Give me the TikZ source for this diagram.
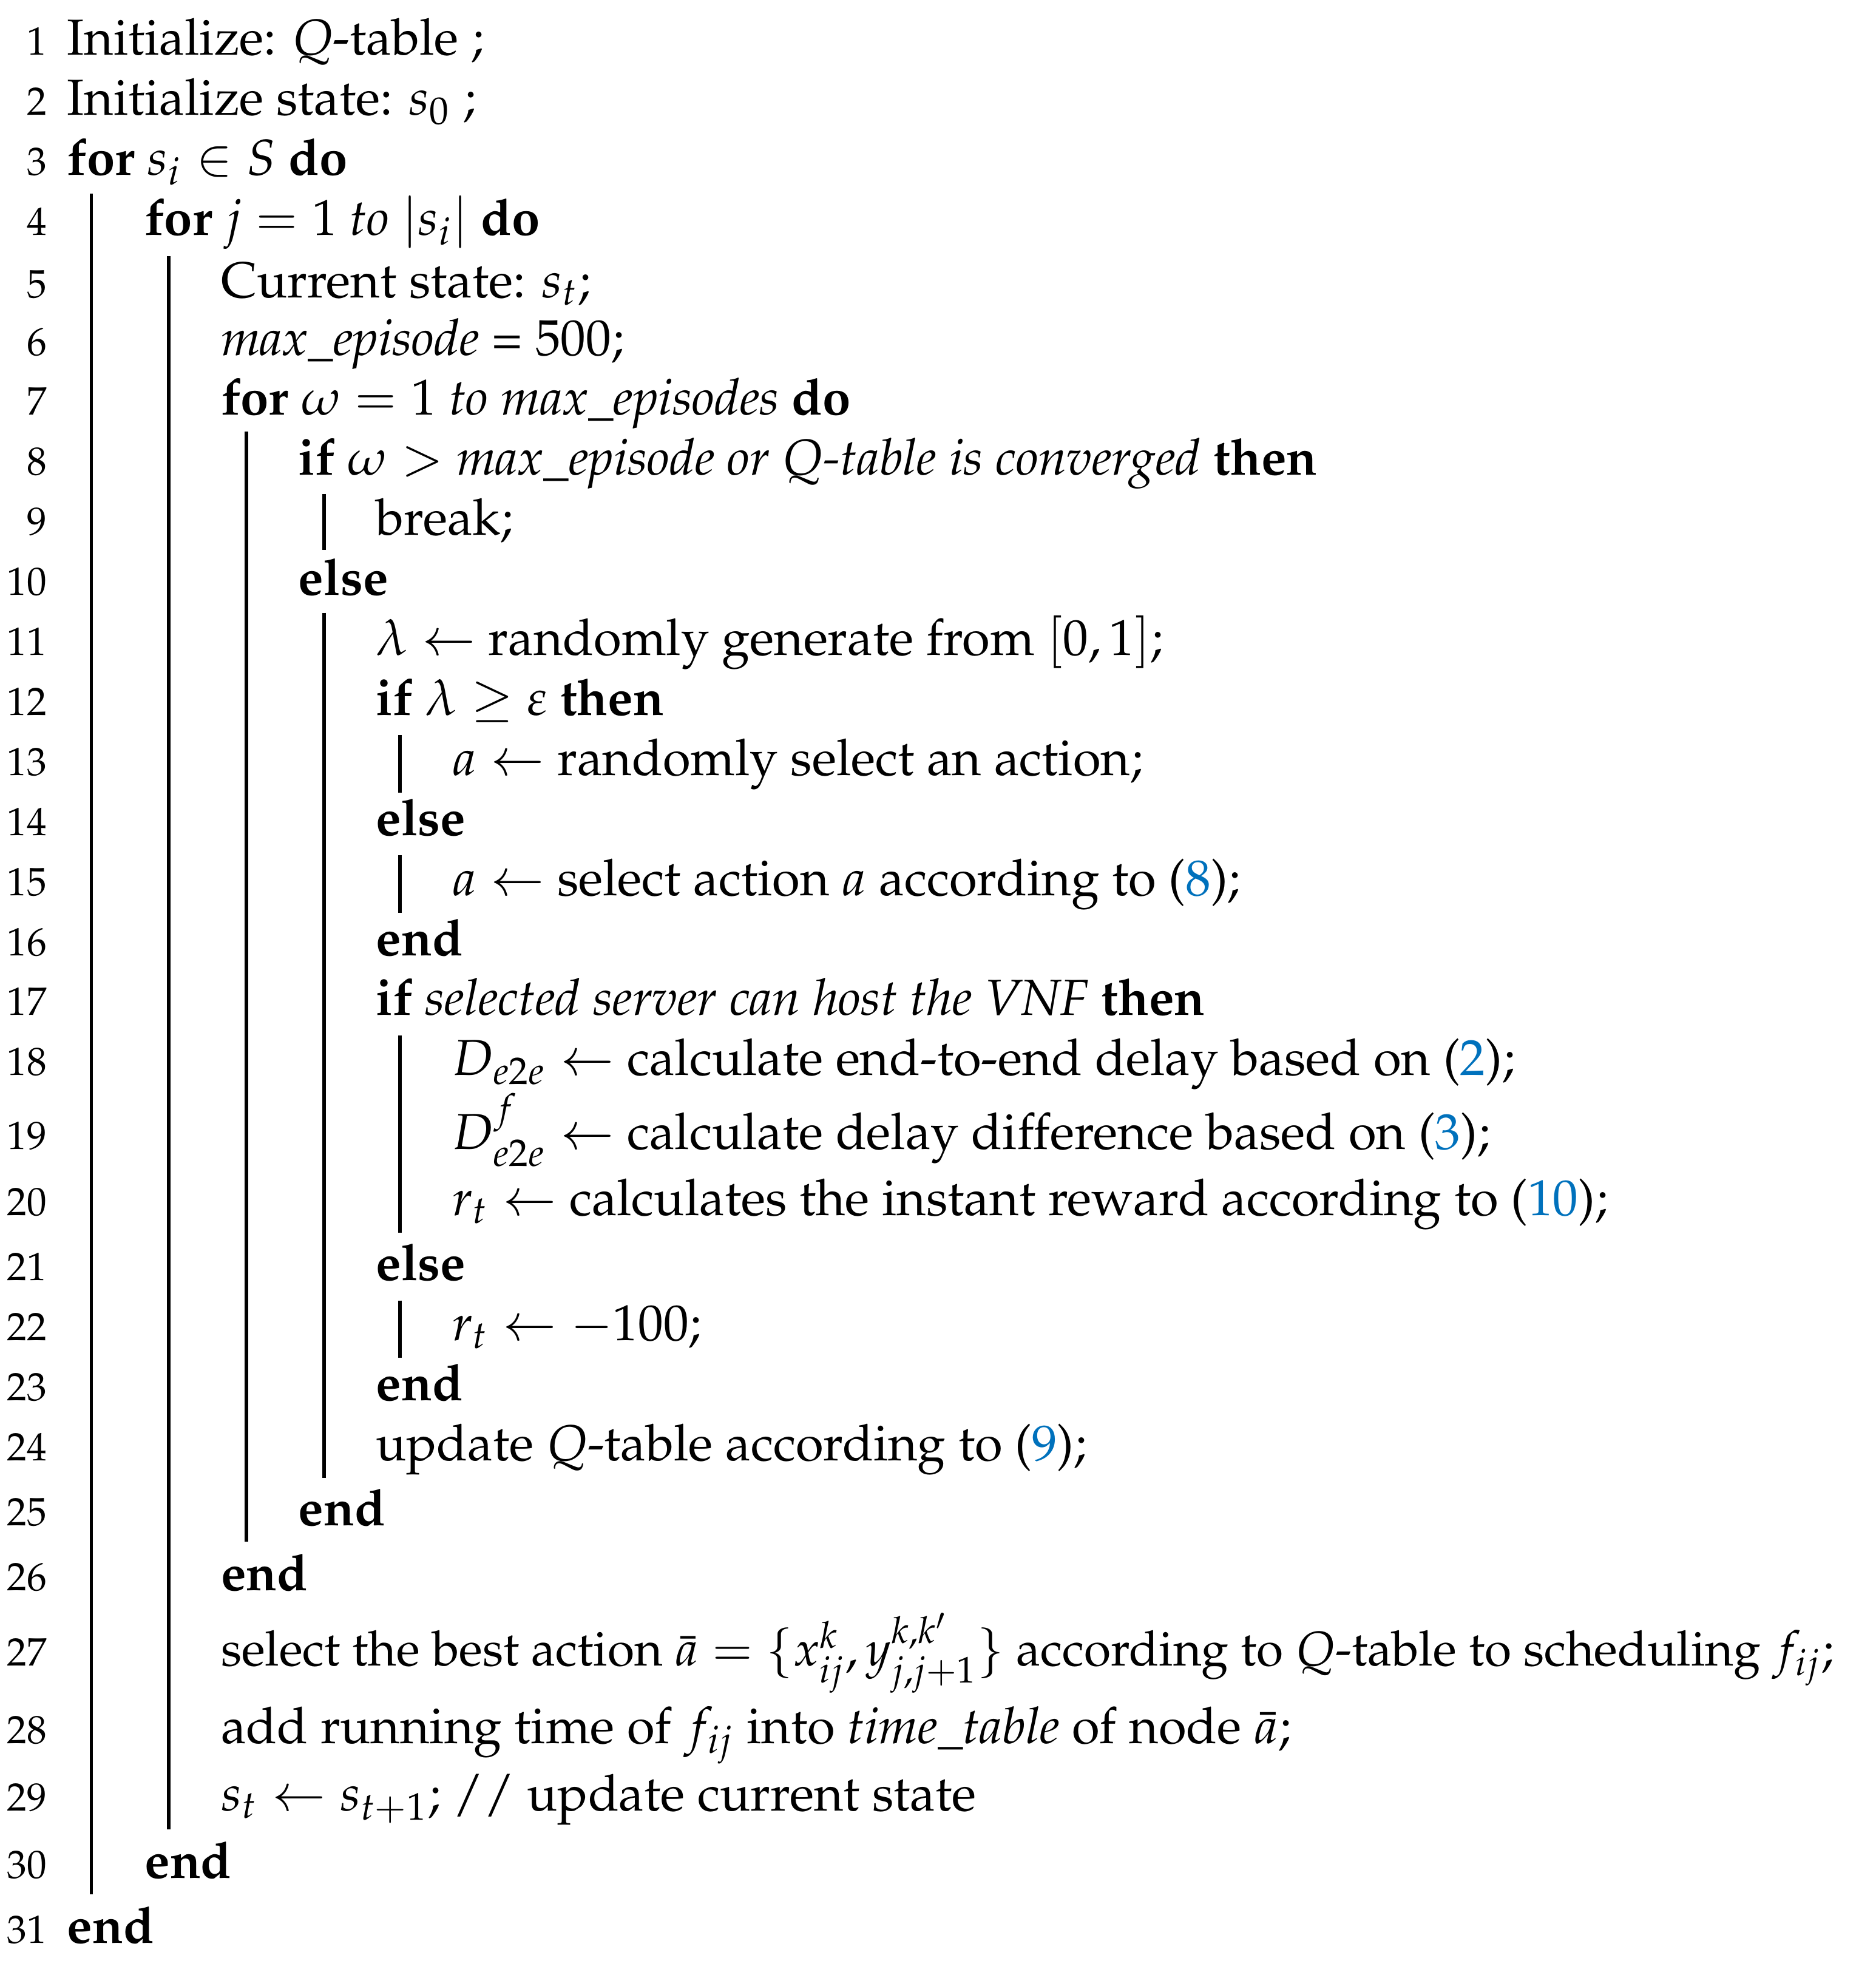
\documentclass[tikz,border=0pt]{standalone}
\usepackage[T1]{fontenc}
\usepackage{mathpazo}
\definecolor{refblue}{RGB}{0,113,188}
\newcommand{\rf}[1]{(\textcolor{refblue}{#1})}
\begin{document}
\begin{tikzpicture}[x=0.01cm,y=-0.01cm,
  ln/.style={anchor=base east,inner sep=0pt,font=\fontsize{9}{11}\selectfont},
  tx/.style={anchor=base west,inner sep=0pt,font=\fontsize{11.5}{14}\selectfont},
  bar/.style={line width=0.8pt}]
\useasboundingbox (0,0) rectangle (1500,1577);
\def\L#1#2#3#4{\node[ln] (n#1) at (38,#2+12) {#1};\node[tx] (t#1) at (#3,#2+12) {#4};}
\L{1}{32}{53}{Initialize: $Q$-table ;}
\L{2}{80}{53}{Initialize state: $s_0$ ;}
\L{3}{128}{53}{\textbf{for} $s_i\in S$ \textbf{do}}
\L{4}{176}{115}{\textbf{for} $j=1$ \textit{to} $|s_i|$ \textbf{do}}
\L{5}{226}{176}{Current state: $s_t$;}
\L{6}{272}{176}{\textit{max\_episode} = 500;}
\L{7}{320}{176}{\textbf{for} $\omega=1$ \textit{to max\_episodes} \textbf{do}}
\L{8}{368}{238}{\textbf{if} $\omega>$ \textit{max\_episode or $Q$-table is converged} \textbf{then}}
\L{9}{416}{300}{break;}
\L{10}{464}{238}{\textbf{else}}
\L{11}{512}{300}{$\lambda\leftarrow$ randomly generate from $[0,1]$;}
\L{12}{560}{300}{\textbf{if} $\lambda\geq\varepsilon$ \textbf{then}}
\L{13}{608}{361}{$a\leftarrow$ randomly select an action;}
\L{14}{656}{300}{\textbf{else}}
\L{15}{704}{361}{$a\leftarrow$ select action $a$ according to \rf{8};}
\L{16}{752}{300}{\textbf{end}}
\L{17}{800}{300}{\textbf{if} \textit{selected server can host the VNF} \textbf{then}}
\L{18}{848}{361}{$D_{e2e}\leftarrow$ calculate end-to-end delay based on \rf{2};}
\L{19}{907}{361}{$D^f_{e2e}\leftarrow$ calculate delay difference based on \rf{3};}
\L{20}{960}{361}{$r_t\leftarrow$ calculates the instant reward according to \rf{10};}
\L{21}{1012}{300}{\textbf{else}}
\L{22}{1060}{361}{$r_t\leftarrow -100$;}
\L{23}{1108}{300}{\textbf{end}}
\L{24}{1156}{300}{update $Q$-table according to \rf{9};}
\L{25}{1208}{238}{\textbf{end}}
\L{26}{1260}{176}{\textbf{end}}
\L{27}{1320}{176}{\fontsize{11.1}{14}\selectfont select the best action $\bar a=\{x^k_{ij},y^{k,k'}_{j,j+1}\}$ according to $Q$-table to scheduling $f_{ij}$;}
\L{28}{1382}{176}{add running time of $f_{ij}$ into \textit{time\_table} of node $\bar a$;}
\L{29}{1436}{176}{$s_t\leftarrow s_{t+1}$; // update current state}
\L{30}{1490}{115}{\textbf{end}}
\L{31}{1542}{53}{\textbf{end}}
\coordinate (a1) at (73,155); \coordinate (a2) at (73,1515);
\coordinate (b1) at (135,205); \coordinate (b2) at (135,1463);
\coordinate (c1) at (197,345); \coordinate (c2) at (197,1233);
\coordinate (d1) at (259,395); \coordinate (d2) at (259,440);
\coordinate (e1) at (259,490); \coordinate (e2) at (259,1182);
\coordinate (f1) at (320,588); \coordinate (f2) at (320,634);
\coordinate (g1) at (320,684); \coordinate (g2) at (320,730);
\coordinate (h1) at (320,828); \coordinate (h2) at (320,986);
\coordinate (i1) at (320,1040); \coordinate (i2) at (320,1086);
\foreach \p in {a,b,c,d,e,f,g,h,i} \draw[bar] (\p1) -- (\p2);
\end{tikzpicture}
\end{document}
